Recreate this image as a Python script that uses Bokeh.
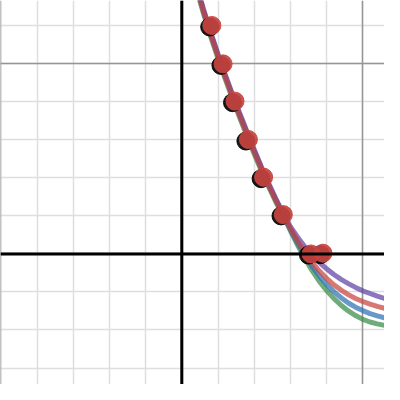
from bokeh.plotting import figure
from bokeh.models import SingleIntervalTicker, Grid, Span
from bokeh.embed import file_html
from bokeh.resources import INLINE

# points
red_x = [0.83, 1.14, 1.47, 1.84, 2.26, 2.805, 3.57, 3.90]
red_y = [6.01, 5.0, 4.02, 3.01, 2.02, 1.035, 0.0, 0.02]
black_x = [0.77, 1.08, 1.40, 1.77, 2.19, 2.74, 3.50, 3.83]
black_y = [5.97, 4.96, 3.98, 2.97, 1.98, 1.00, -0.03, -0.02]

curve_x = [0.4, 0.6, 0.8, 1.0, 1.2, 1.4, 1.6, 1.8, 2.0, 2.2, 2.4, 2.6, 2.8,
           3.0, 3.2, 3.4, 3.6, 3.8, 4.0, 4.2, 4.4, 4.6, 4.8, 5.0, 5.2, 5.4, 5.6, 5.7]

purple_y = [7.10, 6.44, 5.83, 5.26, 4.72, 4.20, 3.70, 3.22, 2.75, 2.29, 1.86, 1.45, 1.07,
            0.72, 0.44, 0.19, -0.03, -0.22, -0.39, -0.54, -0.67, -0.78, -0.88, -0.97, -1.04, -1.11, -1.17, -1.20]
red_cy = [7.03, 6.37, 5.76, 5.19, 4.65, 4.13, 3.63, 3.15, 2.68, 2.23, 1.80, 1.40, 1.03,
          0.67, 0.34, 0.04, -0.22, -0.45, -0.64, -0.81, -0.95, -1.07, -1.17, -1.25, -1.32, -1.38, -1.43, -1.45]
blue_y = [7.06, 6.40, 5.79, 5.22, 4.68, 4.16, 3.66, 3.18, 2.71, 2.26, 1.82, 1.42, 1.04,
          0.64, 0.28, -0.04, -0.33, -0.58, -0.80, -0.99, -1.15, -1.29, -1.40, -1.49, -1.57, -1.63, -1.68, -1.70]
green_y = [6.98, 6.32, 5.71, 5.14, 4.60, 4.08, 3.58, 3.10, 2.63, 2.18, 1.76, 1.36, 1.00,
           0.61, 0.23, -0.12, -0.44, -0.72, -0.96, -1.17, -1.35, -1.50, -1.62, -1.72, -1.79, -1.84, -1.88, -1.89]

p = figure(width=384, height=384, x_range=(-5.01, 5.6), y_range=(-3.434, 6.667),
           output_backend="svg", toolbar_location=None, min_border=0)
p.axis.visible = False
p.outline_line_color = None
p.background_fill_color = "white"

p.xgrid.ticker = SingleIntervalTicker(interval=1)
p.ygrid.ticker = SingleIntervalTicker(interval=1)
p.grid.grid_line_color = "#dedede"
p.grid.grid_line_width = 1.5

p.add_layout(Grid(dimension=0, ticker=SingleIntervalTicker(interval=5),
                  grid_line_color="#959595", grid_line_width=1.5))
p.add_layout(Grid(dimension=1, ticker=SingleIntervalTicker(interval=5),
                  grid_line_color="#959595", grid_line_width=1.5))

p.add_layout(Span(location=0, dimension="height", line_color="black", line_width=3))
p.add_layout(Span(location=0, dimension="width", line_color="black", line_width=3))

lw = 5
la = 0.72
p.line(curve_x, green_y, line_color="#388c46", line_width=lw, line_alpha=la)
p.line(curve_x, blue_y, line_color="#2d70b3", line_width=lw, line_alpha=la)
p.line(curve_x, purple_y, line_color="#6042a6", line_width=lw, line_alpha=la)
p.line(curve_x, red_cy, line_color="#c74440", line_width=lw, line_alpha=la)

p.scatter(black_x, black_y, size=18, color="black", alpha=0.9)
p.scatter(red_x, red_y, size=18, color="#c74440", alpha=0.92)

open("out.html", "w").write(file_html(p, INLINE))
